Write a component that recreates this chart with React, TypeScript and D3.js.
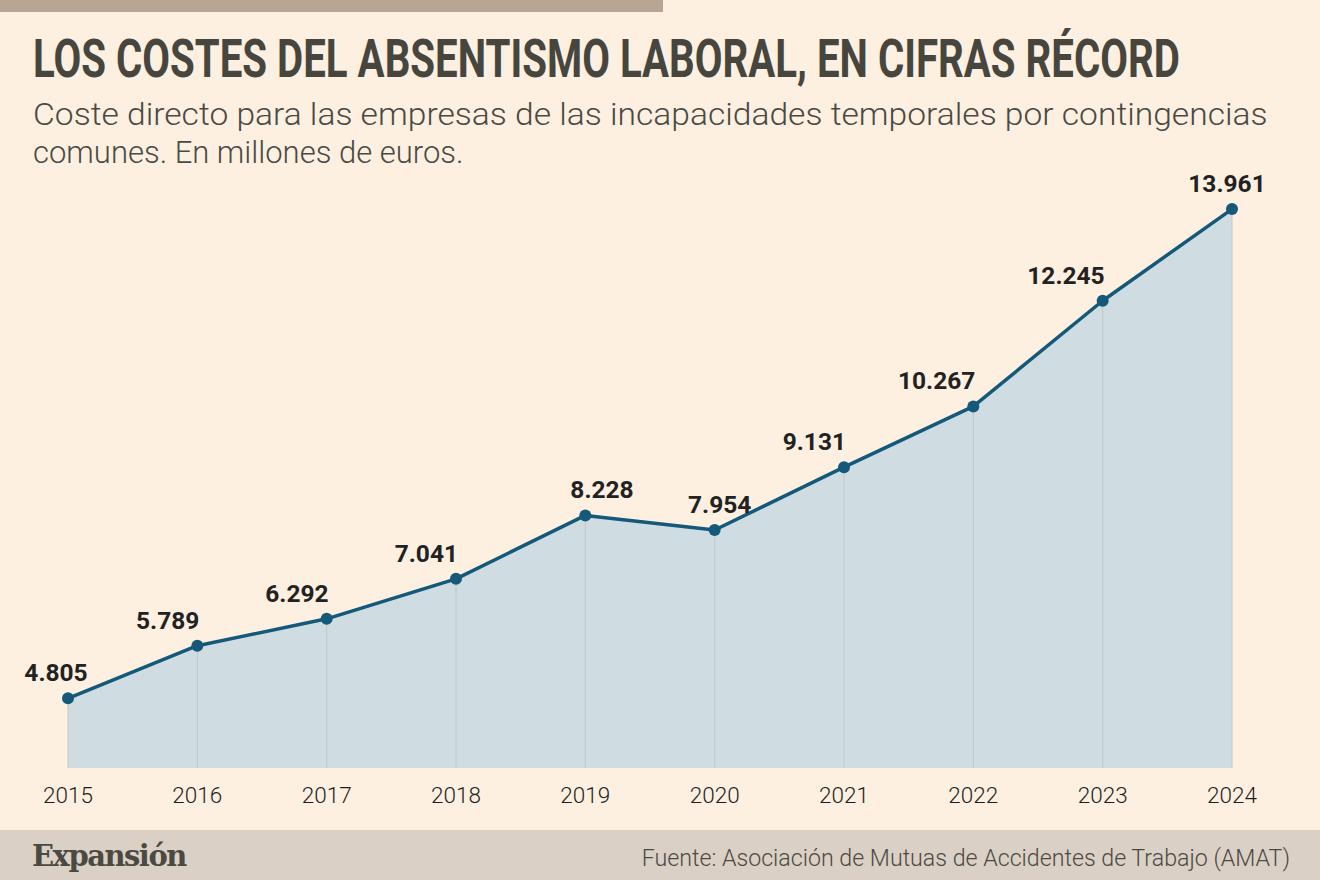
import React, { useEffect, useRef } from 'react';
import * as d3 from 'd3';

const years = ['2015', '2016', '2017', '2018', '2019', '2020', '2021', '2022', '2023', '2024'];
const costs = [4805, 5789, 6292, 7041, 8228, 7954, 9131, 10267, 12245, 13961];
const valueLabels = ['4.805', '5.789', '6.292', '7.041', '8.228', '7.954', '9.131', '10.267', '12.245', '13.961'];
const labelAnchor = ['middle', 'end', 'end', 'end', 'start', 'middle', 'end', 'end', 'end', 'middle'];

const title = 'LOS COSTES DEL ABSENTISMO LABORAL, EN CIFRAS RÉCORD';
const subtitle1 = 'Coste directo para las empresas de las incapacidades temporales por contingencias';
const subtitle2 = 'comunes. En millones de euros.';
const source = 'Fuente: Asociación de Mutuas de Accidentes de Trabajo (AMAT)';

const W = 1320;
const H = 880;

// small nudges so labels sit like the original
const nudge = (yr: string, anchor: string) => {
  if (anchor === 'end') return 2;
  if (anchor === 'start') return -15;
  if (yr === '2015') return -12;
  if (yr === '2020') return 5;
  if (yr === '2024') return -5;
  return 0;
};

// squeeze a text horizontally to a target width
const fitWidth = (sel: d3.Selection<SVGTextElement, unknown, null, undefined>, x0: number, y0: number, target: number) => {
  const w = sel.node()!.getComputedTextLength();
  const sx = w > 0 ? target / w : 1;
  sel.attr('x', 0).attr('y', 0).attr('transform', `translate(${x0},${y0}) scale(${sx},1)`);
};

const App = () => {
  const ref = useRef<SVGSVGElement>(null);

  useEffect(() => {
    const svg = d3.select(ref.current);
    svg.selectAll('*').remove();

    svg.append('rect').attr('width', W).attr('height', H).attr('fill', '#fdf0e1');
    svg.append('rect').attr('width', 663).attr('height', 12).attr('fill', '#b8a593');

    const t = svg.append('text')
      .style('font-family', '"Liberation Sans Narrow", "Roboto", sans-serif')
      .style('font-weight', 700).style('font-size', '54px')
      .attr('fill', '#46463f')
      .text(title);
    fitWidth(t as any, 33, 77, 1147);

    const sub = svg.append('g')
      .style('font-family', 'Roboto, sans-serif')
      .style('font-weight', 300).style('font-size', '31px')
      .attr('fill', '#4a4a44');
    const s1 = sub.append('text').text(subtitle1);
    fitWidth(s1 as any, 33, 125, 1235);
    sub.append('text').attr('x', 33).attr('y', 163).text(subtitle2);

    const x = d3.scalePoint<string>().domain(years).range([68, 1232]);
    const y = d3.scaleLinear().domain([3500, 14000]).range([768, 207]);

    const pts = years.map((yr, i) => ({ yr, v: costs[i], label: valueLabels[i], anchor: labelAnchor[i] }));

    const area = d3.area<typeof pts[0]>()
      .x(d => x(d.yr)!)
      .y0(y(3500))
      .y1(d => y(d.v));
    svg.append('path').datum(pts).attr('d', area).attr('fill', '#cfdde3');

    svg.append('g').selectAll('line').data(pts).enter().append('line')
      .attr('x1', d => x(d.yr)!).attr('x2', d => x(d.yr)!)
      .attr('y1', d => y(d.v)).attr('y2', y(3500))
      .attr('stroke', '#c3c6c6').attr('stroke-width', 1);

    const line = d3.line<typeof pts[0]>().x(d => x(d.yr)!).y(d => y(d.v));
    svg.append('path').datum(pts).attr('d', line)
      .attr('fill', 'none').attr('stroke', '#14597a').attr('stroke-width', 3.5)
      .attr('stroke-linejoin', 'round');

    svg.append('g').selectAll('circle').data(pts).enter().append('circle')
      .attr('cx', d => x(d.yr)!).attr('cy', d => y(d.v)).attr('r', 6)
      .attr('fill', '#14597a');

    svg.append('g').selectAll('text').data(pts).enter().append('text')
      .attr('x', d => x(d.yr)! + nudge(d.yr, d.anchor))
      .attr('y', d => y(d.v) - 17)
      .attr('text-anchor', d => d.anchor)
      .style('font-family', 'Roboto, sans-serif')
      .style('font-weight', 700).style('font-size', '24.5px')
      .attr('fill', '#222')
      .text(d => d.label);

    svg.append('g').selectAll('text').data(years).enter().append('text')
      .attr('x', d => x(d)!).attr('y', 803)
      .attr('text-anchor', 'middle')
      .style('font-family', 'Roboto, sans-serif')
      .style('font-weight', 300).style('font-size', '22.5px')
      .attr('fill', '#1e1e1e')
      .text(d => d);

    svg.append('rect').attr('y', 830).attr('width', W).attr('height', 50).attr('fill', '#dbd0c5');
    svg.append('text')
      .attr('x', 32).attr('y', 866)
      .style('font-family', '"DejaVu Serif", "Liberation Serif", serif')
      .style('font-weight', 700).style('font-size', '29px')
      .style('letter-spacing', '-1.5px')
      .attr('fill', '#4a4a42')
      .text('Expansión');
    svg.append('text')
      .attr('x', 1290).attr('y', 866)
      .attr('text-anchor', 'end')
      .style('font-family', 'Roboto, sans-serif')
      .style('font-weight', 300).style('font-size', '23.2px')
      .attr('fill', '#4a4a44')
      .text(source);
  }, []);

  return <svg ref={ref} width={W} height={H} style={{ display: 'block', position: 'absolute', top: 0, left: 0 }} />;
};

export default App;
